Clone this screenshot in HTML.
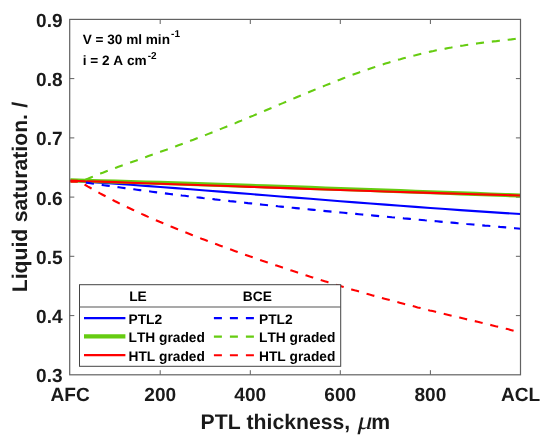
<!DOCTYPE html>
<html><head><meta charset="utf-8"><title>Liquid saturation vs PTL thickness</title>
<style>
html,body{margin:0;padding:0;background:#fff;}
body{width:550px;height:445px;overflow:hidden;}
svg{display:block;}
text{text-rendering:geometricPrecision;font-kerning:none;font-family:"Liberation Sans",Arial,Helvetica,sans-serif;font-weight:bold;fill:#1a1a1a;}
.tk{font-size:19.1px;}
.lb{font-size:21.2px;}
.lg{font-size:13.75px;fill:#000;}
.an{font-size:13.6px;fill:#000;}
.sup{font-size:10px;}
text.mu{font-family:"Liberation Serif","DejaVu Serif",serif;font-style:italic;font-weight:normal;font-size:25px;}
</style></head><body>
<svg width="550" height="445" viewBox="0 0 550 445">
<rect width="550" height="445" fill="#fff"/>
<clipPath id="ax"><rect x="69.7" y="19.4" width="450.8" height="355.4"/></clipPath>
<!-- ticks -->
<g stroke="#606060" stroke-width="1" fill="none">
<line x1="160.2" y1="374.8" x2="160.2" y2="370.2"/><line x1="160.2" y1="19.4" x2="160.2" y2="24.0"/>
<line x1="250.3" y1="374.8" x2="250.3" y2="370.2"/><line x1="250.3" y1="19.4" x2="250.3" y2="24.0"/>
<line x1="340.3" y1="374.8" x2="340.3" y2="370.2"/><line x1="340.3" y1="19.4" x2="340.3" y2="24.0"/>
<line x1="430.4" y1="374.8" x2="430.4" y2="370.2"/><line x1="430.4" y1="19.4" x2="430.4" y2="24.0"/>
<line x1="69.7" y1="315.6" x2="74.3" y2="315.6"/><line x1="520.5" y1="315.6" x2="515.9" y2="315.6"/>
<line x1="69.7" y1="256.3" x2="74.3" y2="256.3"/><line x1="520.5" y1="256.3" x2="515.9" y2="256.3"/>
<line x1="69.7" y1="197.1" x2="74.3" y2="197.1"/><line x1="520.5" y1="197.1" x2="515.9" y2="197.1"/>
<line x1="69.7" y1="137.9" x2="74.3" y2="137.9"/><line x1="520.5" y1="137.9" x2="515.9" y2="137.9"/>
<line x1="69.7" y1="78.6" x2="74.3" y2="78.6"/><line x1="520.5" y1="78.6" x2="515.9" y2="78.6"/>
</g>
<!-- data lines -->
<g fill="none" stroke-linejoin="round" clip-path="url(#ax)">
<path d="M70.4 180.57 L85.4 181.59 L100.4 182.63 L115.4 183.69 L130.4 184.78 L145.4 185.89 L160.4 187.02 L175.4 188.16 L190.4 189.32 L205.4 190.49 L220.4 191.66 L235.4 192.85 L250.4 194.04 L265.4 195.24 L280.4 196.43 L295.4 197.63 L310.4 198.82 L325.4 200.01 L340.4 201.19 L355.4 202.36 L370.4 203.52 L385.4 204.67 L400.4 205.80 L415.4 206.91 L430.4 208.00 L445.4 209.07 L460.4 210.12 L475.4 211.14 L490.4 212.14 L505.4 213.10 L520.4 214.03 L520.8 214.05" stroke="#0000ff" stroke-width="2.1"/>
<path d="M70.4 180.38 L85.4 180.77 L100.4 181.18 L115.4 181.60 L130.4 182.03 L145.4 182.47 L160.4 182.92 L175.4 183.39 L190.4 183.86 L205.4 184.34 L220.4 184.83 L235.4 185.33 L250.4 185.83 L265.4 186.34 L280.4 186.86 L295.4 187.39 L310.4 187.91 L325.4 188.45 L340.4 188.99 L355.4 189.53 L370.4 190.07 L385.4 190.61 L400.4 191.16 L415.4 191.71 L430.4 192.26 L445.4 192.81 L460.4 193.36 L475.4 193.91 L490.4 194.45 L505.4 195.00 L520.4 195.54 L520.8 195.55" stroke="#66cc11" stroke-width="4.1"/>
<path d="M70.4 180.69 L85.4 181.18 L100.4 181.67 L115.4 182.17 L130.4 182.68 L145.4 183.19 L160.4 183.70 L175.4 184.22 L190.4 184.74 L205.4 185.27 L220.4 185.79 L235.4 186.32 L250.4 186.84 L265.4 187.37 L280.4 187.89 L295.4 188.41 L310.4 188.93 L325.4 189.44 L340.4 189.95 L355.4 190.45 L370.4 190.95 L385.4 191.44 L400.4 191.93 L415.4 192.41 L430.4 192.88 L445.4 193.34 L460.4 193.78 L475.4 194.22 L490.4 194.65 L505.4 195.07 L520.4 195.47 L520.8 195.48" stroke="#ff0000" stroke-width="2.1"/>
<path d="M85.9 182.6 L88.9 183.0 L91.9 183.5 L94.9 183.9 L97.9 184.3 L100.9 184.8 L103.9 185.2 L106.9 185.6 L109.9 186.0 L112.9 186.5 L115.9 186.9 L118.9 187.3 L121.9 187.7 L124.9 188.1 L127.9 188.5 L130.9 188.9 L133.9 189.3 L136.9 189.7 L139.9 190.1 L142.9 190.5 L145.9 190.9 L148.9 191.3 L151.9 191.7 L154.9 192.1 L157.9 192.5 L160.9 192.9 L163.9 193.2 L166.9 193.6 L169.9 194.0 L172.9 194.4 L175.9 194.7 L178.9 195.1 L181.9 195.5 L184.9 195.8 L187.9 196.2 L190.9 196.6 L193.9 196.9 L196.9 197.3 L199.9 197.6 L202.9 198.0 L205.9 198.3 L208.9 198.7 L211.9 199.0 L214.9 199.4 L217.9 199.7 L220.9 200.1 L223.9 200.4 L226.9 200.7 L229.9 201.1 L232.9 201.4 L235.9 201.7 L238.9 202.1 L241.9 202.4 L244.9 202.7 L247.9 203.1 L250.9 203.4 L253.9 203.7 L256.9 204.0 L259.9 204.4 L262.9 204.7 L265.9 205.0 L268.9 205.3 L271.9 205.6 L274.9 205.9 L277.9 206.3 L280.9 206.6 L283.9 206.9 L286.9 207.2 L289.9 207.5 L292.9 207.8 L295.9 208.1 L298.9 208.4 L301.9 208.7 L304.9 209.0 L307.9 209.3 L310.9 209.6 L313.9 209.9 L316.9 210.2 L319.9 210.5 L322.9 210.8 L325.9 211.1 L328.9 211.4 L331.9 211.7 L334.9 211.9 L337.9 212.2 L340.9 212.5 L343.9 212.8 L346.9 213.1 L349.9 213.4 L352.9 213.7 L355.9 213.9 L358.9 214.2 L361.9 214.5 L364.9 214.8 L367.9 215.1 L370.9 215.3 L373.9 215.6 L376.9 215.9 L379.9 216.2 L382.9 216.5 L385.9 216.7 L388.9 217.0 L391.9 217.3 L394.9 217.5 L397.9 217.8 L400.9 218.1 L403.9 218.4 L406.9 218.6 L409.9 218.9 L412.9 219.2 L415.9 219.4 L418.9 219.7 L421.9 220.0 L424.9 220.3 L427.9 220.5 L430.9 220.8 L433.9 221.1 L436.9 221.3 L439.9 221.6 L442.9 221.9 L445.9 222.1 L448.9 222.4 L451.9 222.6 L454.9 222.9 L457.9 223.2 L460.9 223.4 L463.9 223.7 L466.9 224.0 L469.9 224.2 L472.9 224.5 L475.9 224.8 L478.9 225.0 L481.9 225.3 L484.9 225.6 L487.9 225.8 L490.9 226.1 L493.9 226.4 L496.9 226.6 L499.9 226.9 L502.9 227.1 L505.9 227.4 L508.9 227.7 L511.9 227.9 L514.9 228.2 L517.9 228.5 L520.4 228.7" stroke="#0000ff" stroke-width="2.1" stroke-dasharray="8.1 7.85"/>
<path d="M85.4 179.7 L88.4 178.5 L91.4 177.2 L94.4 176.0 L97.4 174.8 L100.4 173.6 L103.4 172.5 L106.4 171.3 L109.4 170.2 L112.4 169.0 L115.4 167.9 L118.4 166.8 L121.4 165.7 L124.4 164.7 L127.4 163.6 L130.4 162.5 L133.4 161.4 L136.4 160.4 L139.4 159.3 L142.4 158.2 L145.4 157.2 L148.4 156.1 L151.4 155.0 L154.4 154.0 L157.4 152.9 L160.4 151.8 L163.4 150.7 L166.4 149.7 L169.4 148.6 L172.4 147.5 L175.4 146.4 L178.4 145.3 L181.4 144.2 L184.4 143.1 L187.4 141.9 L190.4 140.8 L193.4 139.7 L196.4 138.5 L199.4 137.4 L202.4 136.2 L205.4 135.1 L208.4 133.9 L211.4 132.7 L214.4 131.5 L217.4 130.3 L220.4 129.1 L223.4 127.9 L226.4 126.7 L229.4 125.5 L232.4 124.3 L235.4 123.1 L238.4 121.8 L241.4 120.6 L244.4 119.3 L247.4 118.1 L250.4 116.8 L253.4 115.6 L256.4 114.3 L259.4 113.0 L262.4 111.8 L265.4 110.5 L268.4 109.2 L271.4 108.0 L274.4 106.7 L277.4 105.4 L280.4 104.1 L283.4 102.9 L286.4 101.6 L289.4 100.3 L292.4 99.0 L295.4 97.8 L298.4 96.5 L301.4 95.3 L304.4 94.0 L307.4 92.7 L310.4 91.5 L313.4 90.3 L316.4 89.0 L319.4 87.8 L322.4 86.6 L325.4 85.4 L328.4 84.2 L331.4 83.0 L334.4 81.8 L337.4 80.6 L340.4 79.5 L343.4 78.3 L346.4 77.2 L349.4 76.0 L352.4 74.9 L355.4 73.8 L358.4 72.7 L361.4 71.7 L364.4 70.6 L367.4 69.6 L370.4 68.5 L373.4 67.5 L376.4 66.5 L379.4 65.5 L382.4 64.6 L385.4 63.6 L388.4 62.7 L391.4 61.8 L394.4 60.9 L397.4 60.0 L400.4 59.2 L403.4 58.3 L406.4 57.5 L409.4 56.7 L412.4 55.9 L415.4 55.2 L418.4 54.4 L421.4 53.7 L424.4 53.0 L427.4 52.3 L430.4 51.6 L433.4 51.0 L436.4 50.3 L439.4 49.7 L442.4 49.1 L445.4 48.6 L448.4 48.0 L451.4 47.5 L454.4 46.9 L457.4 46.4 L460.4 45.9 L463.4 45.5 L466.4 45.0 L469.4 44.6 L472.4 44.1 L475.4 43.7 L478.4 43.3 L481.4 42.9 L484.4 42.5 L487.4 42.1 L490.4 41.8 L493.4 41.4 L496.4 41.1 L499.4 40.7 L502.4 40.4 L505.4 40.0 L508.4 39.7 L511.4 39.4 L514.4 39.0 L517.4 38.7 L520.4 38.3" stroke="#66cc11" stroke-width="2.1" stroke-dasharray="8.1 7.85"/>
<path d="M70.4 181.3 L77.8 181.3" stroke="#ff0000" stroke-width="3.1"/>
<path d="M84.6 184.5 L87.6 186.3 L90.6 188.0 L93.6 189.8 L96.6 191.4 L99.6 193.1 L102.6 194.7 L105.6 196.3 L108.6 197.9 L111.6 199.4 L114.6 201.0 L117.6 202.5 L120.6 204.0 L123.6 205.4 L126.6 206.9 L129.6 208.3 L132.6 209.7 L135.6 211.1 L138.6 212.5 L141.6 213.9 L144.6 215.2 L147.6 216.6 L150.6 217.9 L153.6 219.2 L156.6 220.5 L159.6 221.8 L162.6 223.0 L165.6 224.3 L168.6 225.6 L171.6 226.8 L174.6 228.0 L177.6 229.2 L180.6 230.4 L183.6 231.6 L186.6 232.8 L189.6 234.0 L192.6 235.2 L195.6 236.4 L198.6 237.5 L201.6 238.7 L204.6 239.8 L207.6 240.9 L210.6 242.1 L213.6 243.2 L216.6 244.3 L219.6 245.4 L222.6 246.5 L225.6 247.6 L228.6 248.7 L231.6 249.8 L234.6 250.9 L237.6 252.0 L240.6 253.1 L243.6 254.1 L246.6 255.2 L249.6 256.3 L252.6 257.3 L255.6 258.4 L258.6 259.4 L261.6 260.5 L264.6 261.5 L267.6 262.5 L270.6 263.6 L273.6 264.6 L276.6 265.6 L279.6 266.6 L282.6 267.6 L285.6 268.6 L288.6 269.6 L291.6 270.6 L294.6 271.6 L297.6 272.6 L300.6 273.6 L303.6 274.5 L306.6 275.5 L309.6 276.5 L312.6 277.4 L315.6 278.4 L318.6 279.3 L321.6 280.3 L324.6 281.2 L327.6 282.1 L330.6 283.1 L333.6 284.0 L336.6 284.9 L339.6 285.8 L342.6 286.7 L345.6 287.6 L348.6 288.5 L351.6 289.4 L354.6 290.3 L357.6 291.1 L360.6 292.0 L363.6 292.9 L366.6 293.7 L369.6 294.6 L372.6 295.4 L375.6 296.2 L378.6 297.1 L381.6 297.9 L384.6 298.7 L387.6 299.5 L390.6 300.3 L393.6 301.1 L396.6 301.9 L399.6 302.7 L402.6 303.5 L405.6 304.3 L408.6 305.1 L411.6 305.8 L414.6 306.6 L417.6 307.4 L420.6 308.1 L423.6 308.9 L426.6 309.6 L429.6 310.4 L432.6 311.1 L435.6 311.8 L438.6 312.6 L441.6 313.3 L444.6 314.0 L447.6 314.7 L450.6 315.4 L453.6 316.2 L456.6 316.9 L459.6 317.6 L462.6 318.3 L465.6 319.0 L468.6 319.7 L471.6 320.4 L474.6 321.1 L477.6 321.8 L480.6 322.6 L483.6 323.3 L486.6 324.0 L489.6 324.7 L492.6 325.4 L495.6 326.2 L498.6 326.9 L501.6 327.6 L504.6 328.4 L507.6 329.1 L510.6 329.9 L513.6 330.7 L516.6 331.4 L519.6 332.2 L520.4 332.4" stroke="#ff0000" stroke-width="2.1" stroke-dasharray="8.1 7.85"/>
</g>
<!-- axes box -->
<rect x="69.7" y="19.4" width="450.8" height="355.4" stroke="#626262" stroke-width="1.2" fill="none"/>
<!-- legend -->
<rect x="79.5" y="284.7" width="261.2" height="81.6" fill="#fff" stroke="#444" stroke-width="1"/>
<line x1="79.5" y1="307" x2="340.7" y2="307" stroke="#555" stroke-width="1.1"/>
<g fill="none">
<line x1="84" y1="318.1" x2="125.4" y2="318.1" stroke="#0000ff" stroke-width="2.1"/>
<line x1="84" y1="336.4" x2="125.4" y2="336.4" stroke="#66cc11" stroke-width="4.1"/>
<line x1="84" y1="355.1" x2="125.4" y2="355.1" stroke="#ff0000" stroke-width="2.1"/>
<line x1="213.9" y1="318.1" x2="254" y2="318.1" stroke="#0000ff" stroke-width="2.1" stroke-dasharray="8 8"/>
<line x1="213.9" y1="336.6" x2="254" y2="336.6" stroke="#66cc11" stroke-width="2.1" stroke-dasharray="8 8"/>
<line x1="213.9" y1="355.3" x2="254" y2="355.3" stroke="#ff0000" stroke-width="2.1" stroke-dasharray="8 8"/>
</g>
<text class="lg" x="129.2" y="301">LE</text>
<text class="lg" x="242.8" y="301">BCE</text>
<text class="lg" x="128.5" y="323.6">PTL2</text>
<text class="lg" x="128.5" y="342">LTH graded</text>
<text class="lg" x="128.5" y="360.5">HTL graded</text>
<text class="lg" x="259" y="323.6">PTL2</text>
<text class="lg" x="259" y="342">LTH graded</text>
<text class="lg" x="259" y="360.5">HTL graded</text>
<!-- tick labels -->
<text class="tk" x="70.1" y="401.2" text-anchor="middle">AFC</text>
<text class="tk" x="160.2" y="401.2" text-anchor="middle">200</text>
<text class="tk" x="250.3" y="401.2" text-anchor="middle">400</text>
<text class="tk" x="340.3" y="401.2" text-anchor="middle">600</text>
<text class="tk" x="430.4" y="401.2" text-anchor="middle">800</text>
<text class="tk" x="520.5" y="401.2" text-anchor="middle">ACL</text>
<text class="tk" x="62.6" y="382.3" text-anchor="end">0.3</text>
<text class="tk" x="62.6" y="323.1" text-anchor="end">0.4</text>
<text class="tk" x="62.6" y="263.8" text-anchor="end">0.5</text>
<text class="tk" x="62.6" y="204.6" text-anchor="end">0.6</text>
<text class="tk" x="62.6" y="145.4" text-anchor="end">0.7</text>
<text class="tk" x="62.6" y="86.1" text-anchor="end">0.8</text>
<text class="tk" x="62.6" y="26.9" text-anchor="end">0.9</text>
<!-- axis labels -->
<text class="lb" x="200.6" y="428.5">PTL thickness,</text>
<text class="mu" transform="translate(357.6 428.5) scale(1.2 1)">μ</text>
<text class="lb" x="371.3" y="428.5">m</text>
<text class="lb" transform="translate(27.3 197) rotate(-90)" text-anchor="middle" style="word-spacing:0.5px">Liquid saturation. /</text>
<!-- annotation -->
<text class="an" x="82.7" y="43.7">V = 30 ml min<tspan class="sup" dx="1.1" dy="-6.3">-1</tspan></text>
<text class="an" x="82.7" y="65">i = 2 A cm<tspan class="sup" dx="1.1" dy="-6.3">-2</tspan></text>
</svg>
</body></html>
